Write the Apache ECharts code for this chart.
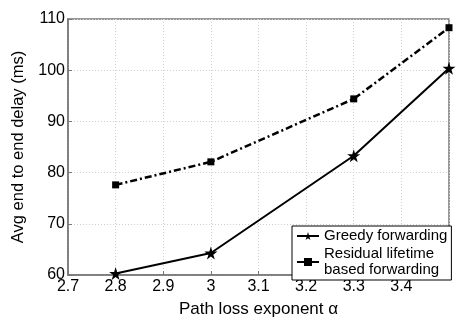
<!DOCTYPE html>
<html>
<head>
<meta charset="utf-8">
<script src="https://cdn.jsdelivr.net/npm/echarts@6/dist/echarts.min.js"></script>
<style>html,body{margin:0;padding:0;background:#fff;}#c{width:474px;height:323px;}</style>
</head>
<body>
<div id="c"></div>
<script>
const xValues = [2.8, 3.0, 3.3, 3.5];
const greedy = [60.3, 64.3, 83.3, 100.4];
const residual = [77.6, 82.1, 94.4, 108.3];
const seriesNames = ['Greedy forwarding', 'Residual lifetime\nbased forwarding'];
const xTickMin = 2.7, xTickMax = 3.5, xTickStep = 0.1;
const yTickMin = 60, yTickMax = 110, yTickStep = 10;

const star = 'path://M50,0 L61,35 L98,35 L68,57 L79,91 L50,70 L21,91 L32,57 L2,35 L39,35 Z';
const font = 'Liberation Sans, Arial, Helvetica, sans-serif';
const chart = echarts.init(document.getElementById('c'));
chart.setOption({
  animation: false,
  backgroundColor: '#fff',
  grid: {left: 68, top: 19, right: 25, bottom: 36, show: true, borderColor: '#777', borderWidth: 1.5, backgroundColor: 'transparent'},
  xAxis: {
    type: 'value', min: xTickMin, max: xTickMax, interval: xTickStep,
    name: 'Path loss exponent α', nameLocation: 'middle', nameGap: 26,
    nameTextStyle: {fontFamily: font, fontSize: 17, color: '#000'},
    axisLine: {show: true, lineStyle: {color: '#777', width: 1.5}},
    axisTick: {show: true, inside: true, length: 4, lineStyle: {color: '#777'}},
    axisLabel: {fontFamily: font, fontSize: 16, color: '#000', margin: 4, showMaxLabel: false,
      formatter: v => String(Math.round(v * 10) / 10)},
    splitLine: {show: true, lineStyle: {color: '#d0d0d0', type: [1, 2], width: 1}}
  },
  yAxis: {
    type: 'value', min: yTickMin, max: yTickMax, interval: yTickStep,
    name: 'Avg end to end delay (ms)', nameLocation: 'middle', nameGap: 40,
    nameTextStyle: {fontFamily: font, fontSize: 16.5, color: '#000'},
    axisLine: {show: true, lineStyle: {color: '#777', width: 1.5}},
    axisTick: {show: true, inside: true, length: 4, lineStyle: {color: '#777'}},
    axisLabel: {fontFamily: font, fontSize: 16, color: '#000', margin: 3},
    splitLine: {show: true, lineStyle: {color: '#d0d0d0', type: [1, 2], width: 1}}
  },
  legend: {
    orient: 'vertical', left: 292, top: 226, width: 150,
    backgroundColor: '#fff', borderColor: '#000', borderWidth: 1,
    padding: [2, 4, 2, 4], itemGap: 2, itemWidth: 22, itemHeight: 10,
    textStyle: {fontFamily: font, fontSize: 15, color: '#000', lineHeight: 16},
    data: seriesNames
  },
  series: [
    {
      name: seriesNames[0], type: 'line',
      data: xValues.map((x, i) => [x, greedy[i]]),
      symbol: star, symbolSize: 13,
      itemStyle: {color: '#000'},
      lineStyle: {color: '#000', width: 2},
      z: 3
    },
    {
      name: seriesNames[1], type: 'line',
      data: xValues.map((x, i) => [x, residual[i]]),
      symbol: 'rect', symbolSize: 7,
      itemStyle: {color: '#000'},
      lineStyle: {color: '#000', width: 2.5, type: [7, 3, 2, 3]},
      z: 3
    }
  ]
});
</script>
</body>
</html>
